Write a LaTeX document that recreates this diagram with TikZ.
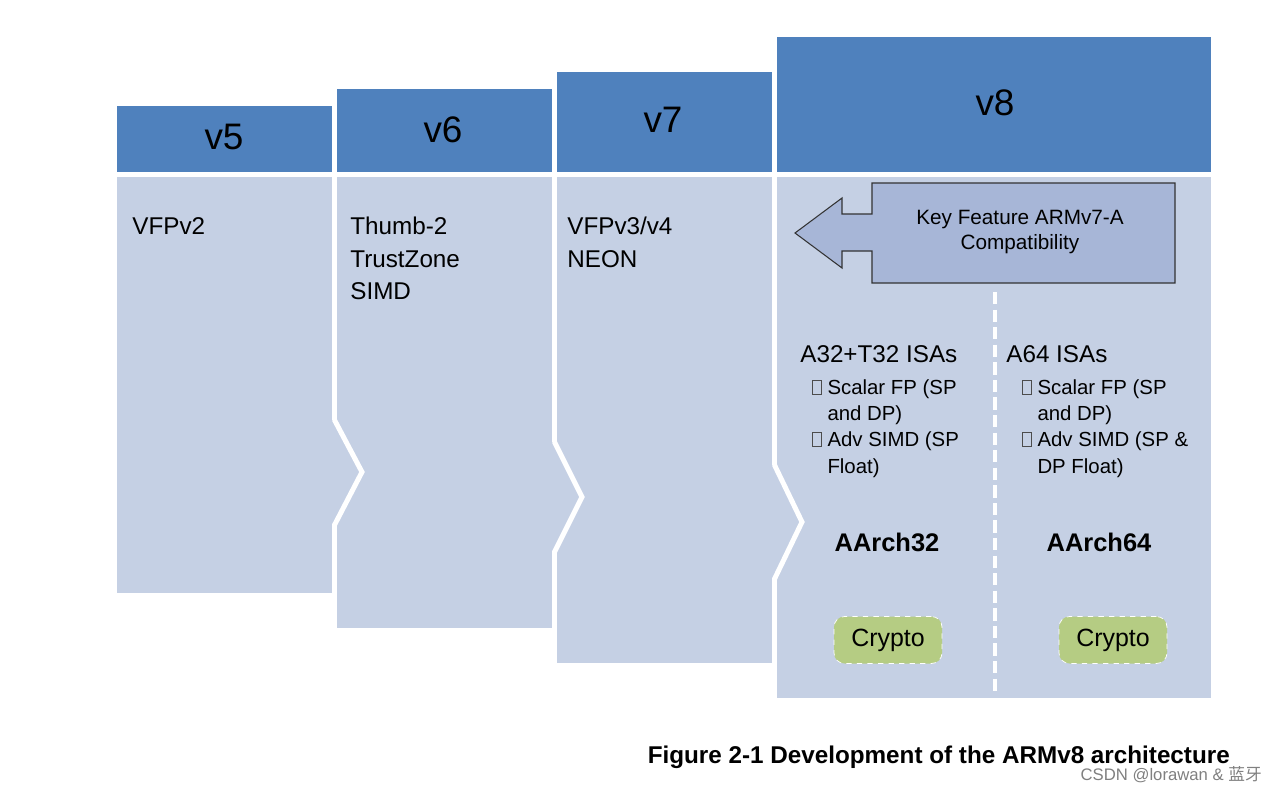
\documentclass[tikz,border=0pt]{standalone}
\usepackage{fontspec}
\setmainfont{Liberation Sans}
\newfontfamily\cjk{Noto Sans CJK SC}
\definecolor{hdr}{HTML}{4F81BD}
\definecolor{bdy}{HTML}{C5D0E4}
\definecolor{arr}{HTML}{A7B6D7}
\definecolor{grn}{HTML}{B5CC83}
\newcommand{\bx}{\tikz[baseline=0pt]\draw[line width=0.4pt,gray!60!black](0,0) rectangle (5pt,8pt);\ }
\begin{document}
\begin{tikzpicture}[x=0.02cm,y=-0.02cm,
 hd/.style={fill=hdr,draw=none},
 bd/.style={fill=bdy,draw=none},
 gap/.style={white,line width=5*0.567pt},
 ver/.style={font=\fontsize{21}{24}\selectfont},
 txt/.style={anchor=north west,align=left,font=\fontsize{13.8}{18.5}\selectfont,inner sep=0pt},
 bul/.style={anchor=north west,align=left,font=\fontsize{11.6}{15}\selectfont,inner sep=0pt},
 cr/.style={fill=grn,draw=white,dashed,rounded corners=6pt,minimum width=108*0.02cm,minimum height=47*0.02cm,font=\fontsize{14.2}{16}\selectfont}]
\useasboundingbox (0,0) rectangle (1282,794);
\fill[white] (0,0) rectangle (1282,794);
% headers
\fill[hd] (117,106) rectangle (332,172);
\fill[hd] (337,89) rectangle (552,172);
\fill[hd] (557,72) rectangle (772,172);
\fill[hd] (777,37) rectangle (1211,172);
\node[ver] (h5) at (224,137) {v5};
\node[ver] (h6) at (443,130) {v6};
\node[ver] (h7) at (663,120) {v7};
\node[ver] (h8) at (995,103) {v8};
% bodies
\fill[bd] (117,177) rectangle (332,593);
\fill[bd] (332,420) -- (362,472) -- (332,525) -- cycle;
\fill[bd] (337,177) rectangle (552,628);
\fill[bd] (552,442) -- (582,497) -- (552,552) -- cycle;
\fill[bd] (557,177) rectangle (772,663);
\fill[bd] (772,465) -- (802,522) -- (772,579) -- cycle;
\fill[bd] (777,177) rectangle (1211,698);
\draw[gap] (334.5,420) -- (334.5,177);
\draw[gap] (334.5,420) -- (362,472) -- (334.5,525) -- (334.5,628);
\draw[gap] (554.5,442) -- (554.5,177);
\draw[gap] (554.5,442) -- (582,497) -- (554.5,552) -- (554.5,663);
\draw[gap] (774.5,465) -- (774.5,177);
\draw[gap] (774.5,465) -- (802,522) -- (774.5,579) -- (774.5,698);
% body texts
\node[txt] (t5) at (132,217) {VFPv2};
\node[txt] (t6) at (350,217) {Thumb-2\\TrustZone\\SIMD};
\node[txt] (t7) at (567,217) {VFPv3/v4\\NEON};
% arrow
\draw[fill=arr,draw=gray!40!black,line width=0.6pt] (795,233) -- (842,198) -- (842,214) -- (872,214) -- (872,183) -- (1175,183) -- (1175,283) -- (872,283) -- (872,251) -- (842,251) -- (842,268) -- cycle;
\node[align=center,font=\fontsize{11.8}{14.5}\selectfont] (kf) at (1020,232) {Key Feature ARMv7-A\\Compatibility};
% dashed divider
\draw[white,line width=2.5pt,dash pattern=on 7pt off 3pt] (995,292) -- (995,695);
\node[txt] (a32) at (800,345) {A32+T32 ISAs};
\node[txt] (a64) at (1006,345) {A64 ISAs};
\node[bul] (b1) at (812,379) {\bx Scalar FP (SP\\\hphantom{\bx}and DP)\\\bx Adv SIMD (SP\\\hphantom{\bx}Float)};
\node[bul] (b2) at (1022,379) {\bx Scalar FP (SP\\\hphantom{\bx}and DP)\\\bx Adv SIMD (SP \&\\\hphantom{\bx}DP Float)};
\node[font=\bfseries\fontsize{14.5}{16}\selectfont] (aa32) at (887,542) {AArch32};
\node[font=\bfseries\fontsize{14.5}{16}\selectfont] (aa64) at (1099,542) {AArch64};
\node[cr] (c1) at (888,640) {Crypto};
\node[cr] (c2) at (1113,640) {Crypto};
\node[anchor=east,font=\bfseries\fontsize{13.8}{15}\selectfont] (cap) at (1236,757) {Figure 2-1 Development of the ARMv8 architecture};
\node[anchor=east,text=gray,font=\fontsize{9.5}{11}\selectfont] (wm) at (1268,775) {CSDN @lorawan \& {\cjk 蓝牙}};
\end{tikzpicture}
\end{document}
